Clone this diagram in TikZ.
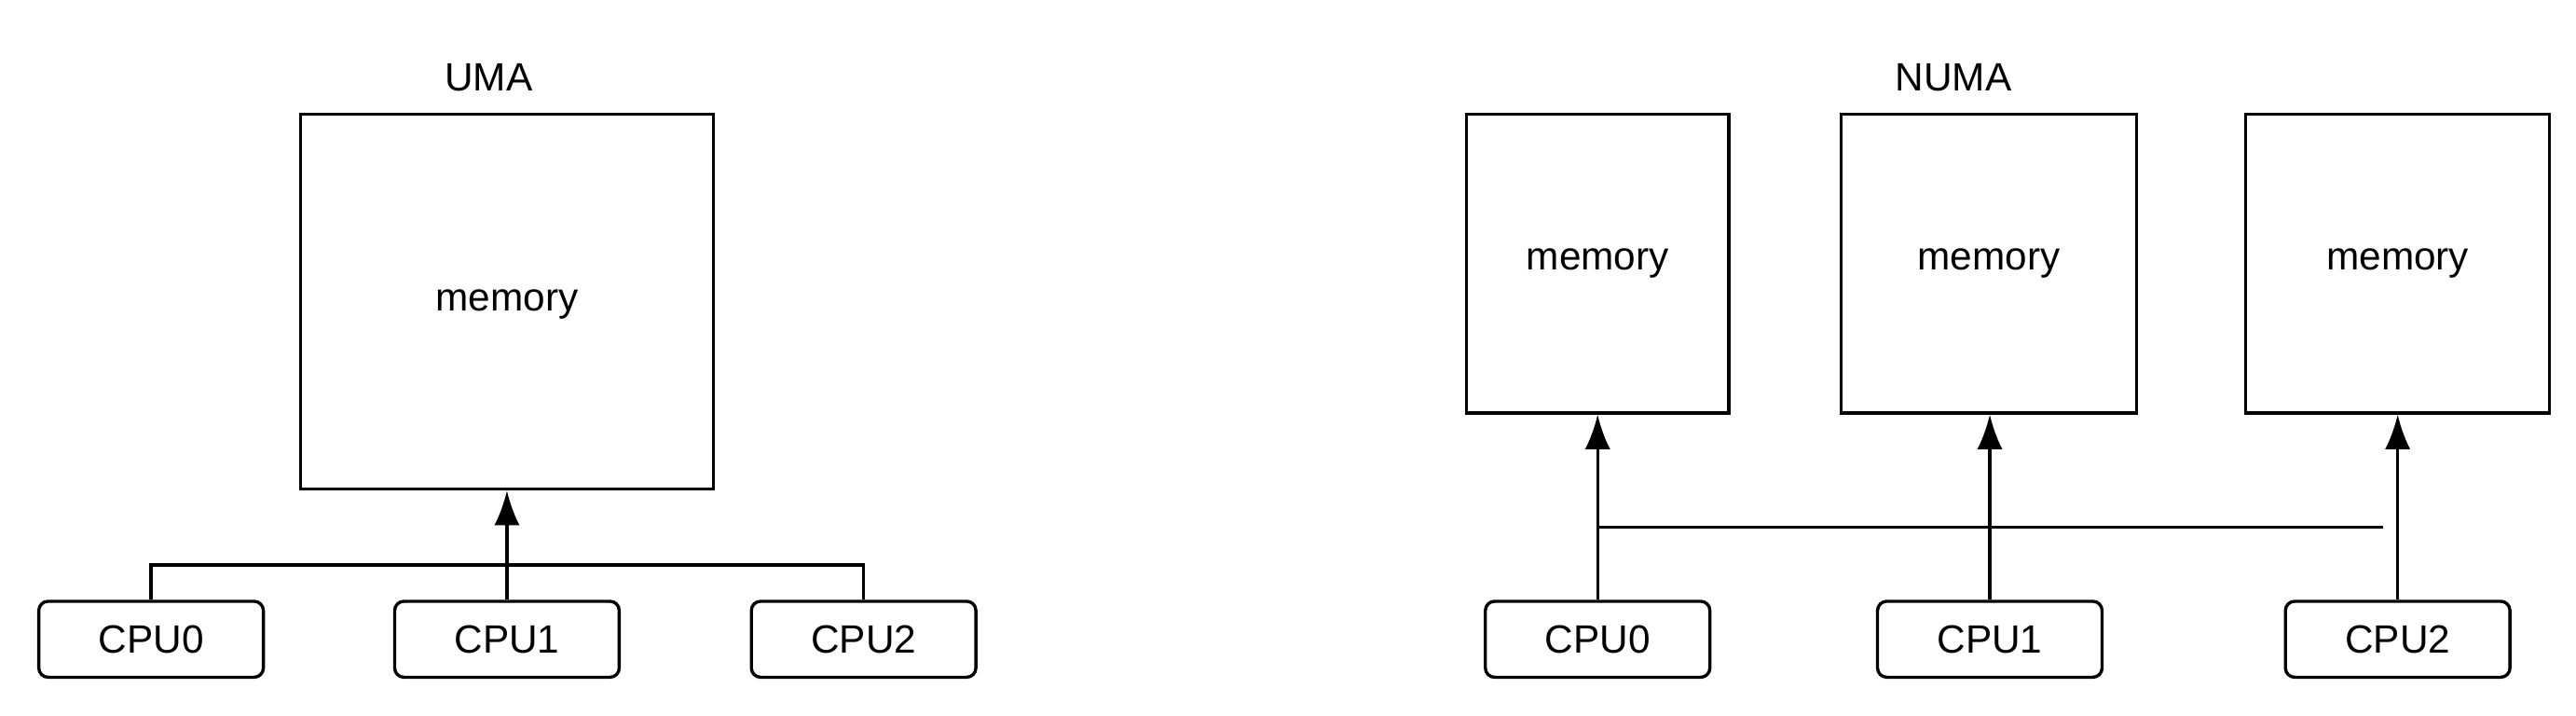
\documentclass[tikz,border=0pt]{standalone}
\usepackage{fontspec}
\setmainfont{Liberation Sans}
\usetikzlibrary{arrows.meta}
\begin{document}
\begin{tikzpicture}[x=0.05cm,y=-0.05cm,line width=2.7pt,
  mem/.style={draw,rectangle,inner sep=0,font=\fontsize{34}{40}\selectfont},
  cpu/.style={draw,rectangle,rounded corners=8pt,minimum width=6.8cm,minimum height=2.3cm,font=\fontsize{34}{40}\selectfont},
  lbl/.style={font=\fontsize{34}{40}\selectfont},
  arr/.style={-{Latex[length=30pt,width=22pt]}}]
\useasboundingbox (0,0) rectangle (1560,433.4);
% UMA
\node[lbl] (uma) at (296,47) {UMA};
\node[mem,minimum width=12.5cm,minimum height=11.35cm] (m) at (307,182.5) {};
\node[lbl] (mt) at (307,184) {memory};
\node[cpu] (c0) at (91.5,387) {CPU0};
\node[cpu] (c1) at (307,387) {CPU1};
\node[cpu] (c2) at (523,387) {CPU2};
\draw (c0.north) |- (c1.north |- 0,342) -| (c2.north);
\draw[arr] (c1.north) -- (m.south);
% NUMA
\node[lbl] (numa) at (1183,47) {NUMA};
\node[mem,minimum width=7.95cm,minimum height=9.05cm] (n0) at (967.5,159.5) {};
\node[mem,minimum width=8.95cm,minimum height=9.05cm] (n1) at (1204.5,159.5) {};
\node[mem,minimum width=9.2cm,minimum height=9.05cm] (n2) at (1452,159.5) {};
\node[lbl] at (n0) {memory};
\node[lbl] at (n1) {memory};
\node[lbl] at (n2) {memory};
\node[cpu] (d0) at (967.5,387) {CPU0};
\node[cpu] (d1) at (1205,387) {CPU1};
\node[cpu] (d2) at (1452,387) {CPU2};
\draw[arr] (d0.north) -- (n0.south);
\draw[arr] (d1.north) -- (d1.north |- n1.south);
\draw[arr] (d2.north) -- (d2.north |- n2.south);
\coordinate (be) at (1443,319);
\draw (d0.north |- be) -- (be);
\end{tikzpicture}
\end{document}
